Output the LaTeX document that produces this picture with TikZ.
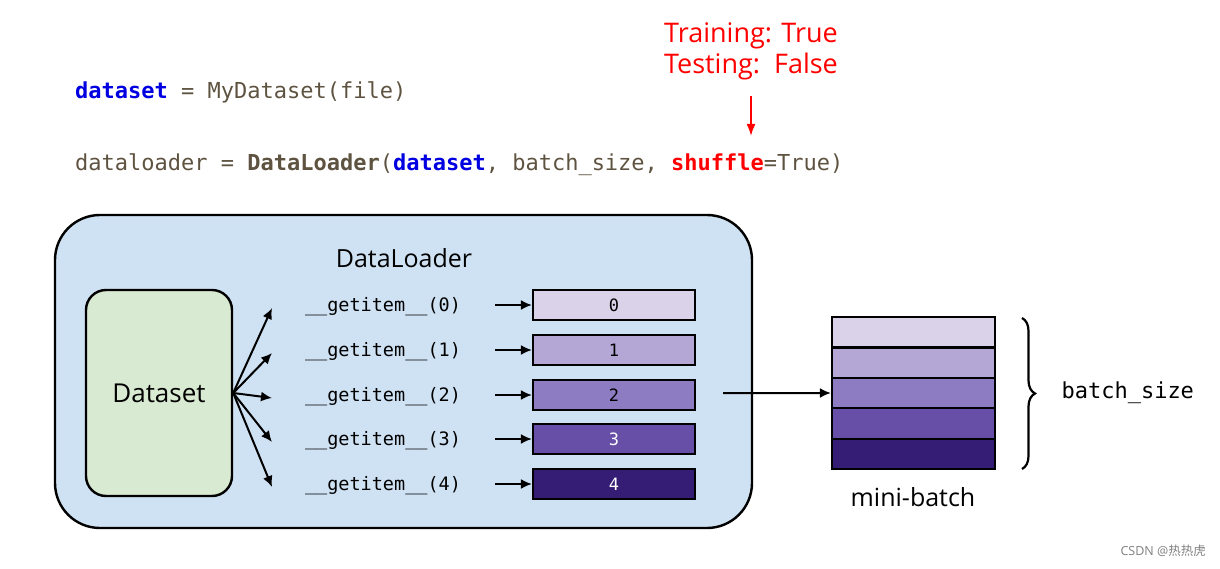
\documentclass[tikz,border=0pt]{standalone}
\usepackage{fontspec}
\setmainfont{Open Sans}
\setmonofont{DejaVu Sans Mono}
\newfontfamily\cjk{Noto Sans CJK SC}
\usetikzlibrary{arrows.meta,decorations.pathreplacing}
\definecolor{cblue}{HTML}{0000E0}
\definecolor{cbrown}{HTML}{5E5340}
\definecolor{cred}{HTML}{FF0000}
\definecolor{bgblue}{HTML}{CFE2F3}
\definecolor{dsgreen}{HTML}{D9EAD3}
\definecolor{p0}{HTML}{DAD2E9}
\definecolor{p1}{HTML}{B4A7D5}
\definecolor{p2}{HTML}{8E7CC3}
\definecolor{p3}{HTML}{674EA7}
\definecolor{p4}{HTML}{351C75}
\begin{document}
\begin{tikzpicture}[x=1pt,y=-1pt,
  code/.style={font=\fontsize{22}{24}\selectfont\ttfamily, text=cbrown, anchor=base west, inner sep=0},
  gi/.style={font=\fontsize{18.5}{20}\selectfont\ttfamily, inner sep=0},
  item/.style={draw=black, line width=2.2pt, minimum width=162pt, minimum height=30pt, inner sep=0, font=\fontsize{17}{18}\selectfont\ttfamily},
  mb/.style={draw=black, line width=2.2pt, minimum width=163pt, minimum height=30.4pt, inner sep=0},
  arr/.style={-{Latex[length=11pt,width=10pt]}, line width=2pt},
  big/.style={font=\fontsize{25}{28}\selectfont}]
\useasboundingbox (0,0) rectangle (1220,569);
\node[code] (l1) at (75,99) {\textbf{\color{cblue}dataset} = MyDataset(file)};
\node[code] (l2) at (75,171) {dataloader = \textbf{DataLoader}(\textbf{\color{cblue}dataset}, batch\_size, \textbf{\color{cred}shuffle}=True)};
\node[font=\fontsize{27}{31}\selectfont, text=cred, align=center, inner sep=0] (tt) at (751,51) {Training: True\\Testing:\ \ False};
\coordinate (sa) at (751,96);
\coordinate (sb) at (751,136);
\draw[-{Latex[length=12pt,width=9pt]}, cred, line width=1.8pt] (sa) -- (sb);
\draw[line width=2.4pt, fill=bgblue, rounded corners=45pt] (55,215) rectangle (752,528);
\node[big] (dlt) at (404,258) {DataLoader};
\node[draw=black, line width=2.4pt, fill=dsgreen, rounded corners=20pt, minimum width=146pt, minimum height=206pt, font=\fontsize{26}{28}\selectfont] (ds) at (159,393) {Dataset};
\foreach \i/\y/\c/\t in {0/305/p0/black,1/350/p1/black,2/395/p2/black,3/439/p3/white,4/484/p4/white}{
  \node[gi] (g\i) at (383,\y+2) {\_\_getitem\_\_(\i)};
  \node[item, fill=\c, text=\t] (b\i) at (614,\y) {\i};
  \coordinate (gs\i) at (495,\y);
  \draw[arr] (gs\i) -- (b\i.west);
  \coordinate (de\i) at (272,\y+3);
  \draw[arr] (ds.east) -- (de\i);
}
\foreach \i/\c in {0/p0,1/p1,2/p2,3/p3,4/p4}{
  \node[mb, fill=\c] (m\i) at (913.5,{332.2+30.4*\i}) {};
}
\coordinate (ms) at (723,393);
\draw[arr] (ms) -- (m2.west);
\node[font=\fontsize{25}{28}\selectfont] (mbl) at (913,497) {mini-batch};
\draw[line width=2.2pt, decorate, decoration={brace, amplitude=13pt}] (1022,318) -- (1022,469);
\node[font=\fontsize{22}{24}\selectfont\ttfamily, anchor=west] (bs) at (1058,393) {batch\_size};
\node[font=\fontsize{12.5}{14}\selectfont, text=gray, anchor=east, inner sep=0] (wm) at (1206,551) {CSDN @{\cjk 热热虎}};
\end{tikzpicture}
\end{document}
